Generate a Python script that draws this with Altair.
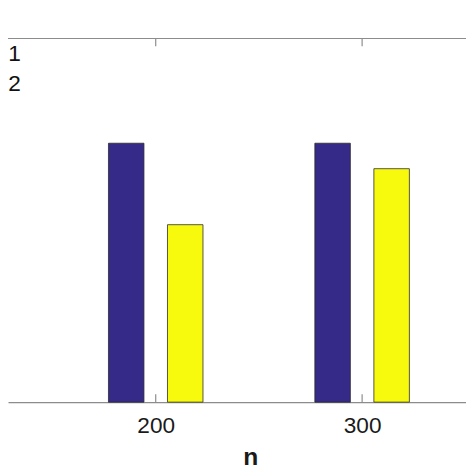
import altair as alt
import pandas as pd

# ---- data ----
n_values = [200, 300]
series_names = ["1", "2"]
series1_values = [0.712, 0.712]
series2_values = [0.488, 0.642]

rows = []
for i, n in enumerate(n_values):
    rows.append({"n": n, "series": series_names[0], "value": series1_values[i]})
    rows.append({"n": n, "series": series_names[1], "value": series2_values[i]})
df = pd.DataFrame(rows)
ticks_df = pd.DataFrame({"n": n_values})
legend_df = pd.DataFrame({"series": series_names})

BLUE = "#352a87"
YELLOW = "#f8fa0d"
AXIS_GRAY = "#8c8c8c"

W, H = 466, 370
PX_PER_UNIT = 2.1
d0 = 200 - 150.3 / PX_PER_UNIT
d1 = d0 + W / PX_PER_UNIT
xscale = alt.Scale(domain=[d0, d1], nice=False, zero=False)

xaxis = alt.Axis(
    values=n_values, format="d", ticks=False, tickSize=0, grid=False,
    domainColor=AXIS_GRAY, domainWidth=1.2,
    labelFont="Liberation Sans", labelFontSize=23, labelColor="#1a1a1a",
    labelBaseline="alphabetic", labelPadding=31, labelFlush=False,
    title="n", titleFont="Liberation Sans", titleFontSize=25,
    titleFontWeight="bold", titleColor="#1a1a1a",
    titleX=246.5, titleY=63, titleBaseline="alphabetic", titleAlign="center",
)

bars = alt.Chart(df).transform_calculate(
    off="datum.series == '1' ? -14.3 : 14.3"
).transform_calculate(
    x0="datum.n + datum.off - 8.6",
    x1="datum.n + datum.off + 8.6",
).mark_bar(stroke="#2a2a2a", strokeWidth=0.8).encode(
    x=alt.X("x0:Q", scale=xscale, axis=xaxis),
    x2="x1:Q",
    y=alt.Y("value:Q", scale=alt.Scale(domain=[0, 1], nice=False), axis=None),
    y2=alt.datum(0),
    color=alt.Color("series:N", scale=alt.Scale(domain=series_names, range=[BLUE, YELLOW]), legend=None),
)

bottom_ticks = alt.Chart(ticks_df).mark_rule(color=AXIS_GRAY, strokeWidth=1.2).encode(
    x=alt.X("n:Q", scale=xscale, axis=xaxis),
    y=alt.value(H),
    y2=alt.value(H - 8),
)
top_ticks = alt.Chart(ticks_df).mark_rule(color=AXIS_GRAY, strokeWidth=1.2).encode(
    x=alt.X("n:Q", scale=xscale, axis=xaxis),
    y=alt.value(0),
    y2=alt.value(8),
)
top_line = alt.Chart(ticks_df).mark_rule(color=AXIS_GRAY, strokeWidth=1.2).encode(
    x=alt.value(0), x2=alt.value(W), y=alt.value(0),
)

legend_text = alt.Chart(legend_df).mark_text(
    align="right", baseline="alphabetic", font="Liberation Sans", fontSize=23, color="#111111"
).encode(
    x=alt.value(13),
    y=alt.Y("series:N", scale=alt.Scale(domain=series_names, range=[23, 53], padding=0), axis=None),
    text="series:N",
)

chart = alt.layer(bars, bottom_ticks, top_ticks, top_line, legend_text).resolve_scale(
    y="independent"
).properties(
    width=W, height=H,
    autosize=alt.AutoSizeParams(type="none"),
    padding={"left": 0, "top": 27, "right": 0, "bottom": 65},
).configure_view(strokeWidth=0, stroke="transparent")

chart.save("out.html", embed_options={"renderer": "svg", "actions": False})
